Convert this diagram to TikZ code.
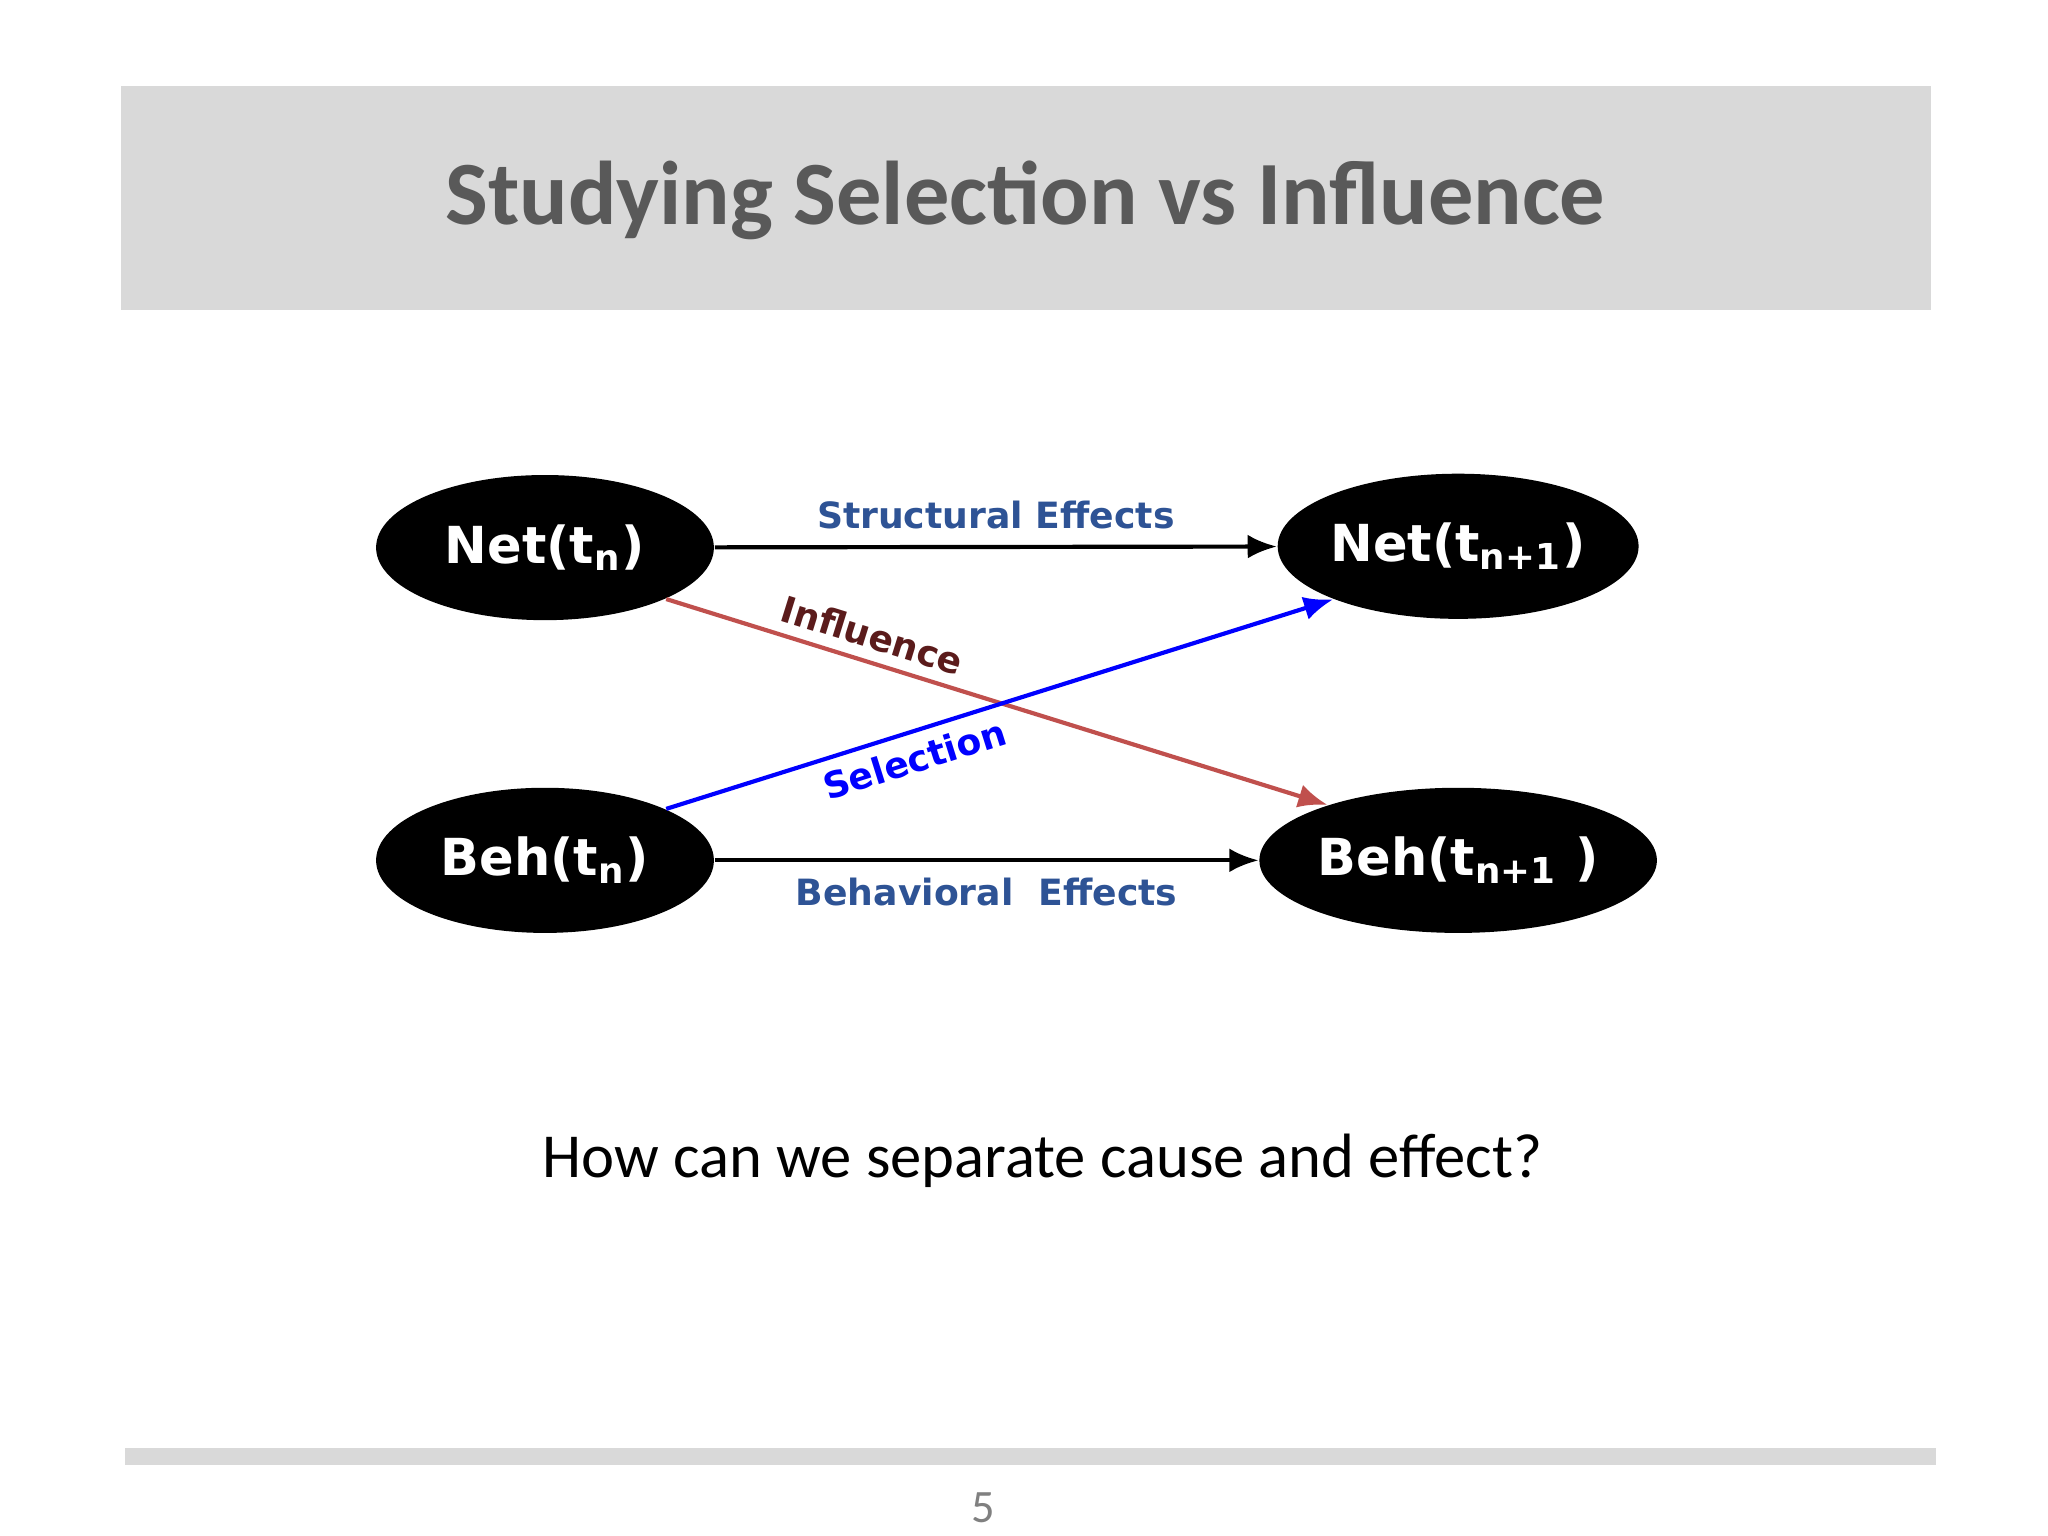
\documentclass[tikz,border=0pt]{standalone}
\usepackage{fontspec}
\setmainfont{Carlito}
\newfontfamily\nodefont{DejaVu Sans}
\usetikzlibrary{arrows.meta,positioning,shapes.geometric}

\definecolor{bandgray}{HTML}{D9D9D9}
\definecolor{titlegray}{HTML}{595959}
\definecolor{effblue}{HTML}{2E5395}
\definecolor{infred}{HTML}{C0504D}
\definecolor{infdark}{HTML}{5B1B1B}

\tikzset{
  state/.style={ellipse, fill=black, text=white, minimum width=2.56cm, minimum height=1.1cm,
    inner sep=0pt, font=\nodefont\bfseries\fontsize{11}{13}\selectfont},
  effect/.style={-{Latex[length=2.2mm,width=1.8mm]}, line width=0.9pt},
  efflabel/.style={text=effblue, font=\nodefont\bfseries\fontsize{7.8}{9}\selectfont}
}

\begin{document}
\begin{tikzpicture}
\useasboundingbox (0,0) rectangle (15.52,11.64);
\fill[white] (0,0) rectangle (15.52,11.64);

% title band
\fill[bandgray] (0.92,9.29) rectangle (14.63,10.99);
\node[text=titlegray, font=\bfseries\fontsize{19.5}{22}\selectfont] (title) at (7.77,10.12) {Studying Selection vs Influence};

% states
\node[state] (net0) at (4.13,7.49) {Net(t\textsubscript{n})};
\node[state] (net1) at (11.05,7.50) {Net(t\textsubscript{n+1})};
\node[state] (beh0) at (4.13,5.12) {Beh(t\textsubscript{n})};
\node[state] (beh1) at (11.05,5.12) {Beh(t\textsubscript{n+1} )};

% effects
\draw[effect] (net0) -- (net1) node[midway, above=0pt, efflabel] {Structural Effects};
\draw[effect] (beh0) -- (beh1) node[midway, below=0pt, efflabel] {Behavioral\ \ Effects};
\draw[effect, infred] (net0.-23) -- (beh1.157)
  node[pos=0.3, above=-1pt, sloped, text=infdark, font=\nodefont\bfseries\fontsize{7.8}{9}\selectfont] {Influence};
\draw[effect, blue] (beh0.23) -- (net1.203)
  node[pos=0.36, below=-1pt, sloped, text=blue, font=\nodefont\bfseries\fontsize{7.8}{9}\selectfont] {Selection};

% question
\node[font=\fontsize{13.5}{16}\selectfont] (quest) at (7.90,2.84) {How can we separate cause and effect?};

% footer
\fill[bandgray] (0.95,0.54) rectangle (14.67,0.67);
\node[text=gray, font=\fontsize{10}{12}\selectfont] (pagenum) at (7.45,0.21) {5};
\end{tikzpicture}
\end{document}
